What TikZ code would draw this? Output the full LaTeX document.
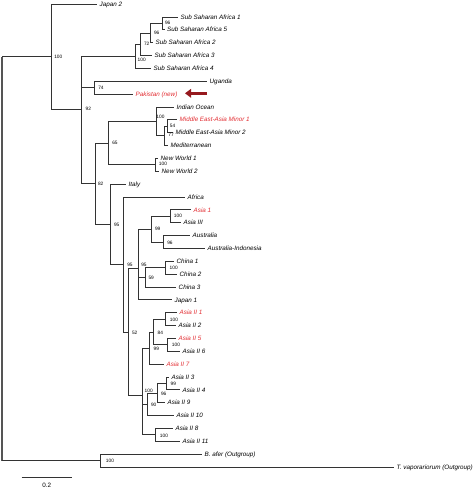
\documentclass[tikz,border=0pt]{standalone}
\usepackage{fontspec}
\setmainfont{Liberation Sans}
\usetikzlibrary{arrows.meta}
\definecolor{treeln}{HTML}{333333}
\definecolor{rootln}{HTML}{555555}
\definecolor{hlred}{RGB}{226,45,50}
\definecolor{arrred}{RGB}{150,25,30}
\newcommand{\rowy}[1]{(4+12.86*(#1))}
\begin{document}
\begin{tikzpicture}[x=1pt,y=-1pt,
  br/.style={draw=treeln,line width=0.7pt},
  rootbr/.style={draw=rootln,line width=1.5pt},
  tip/.style={anchor=west,inner xsep=2.5pt,inner ysep=0pt,font=\fontsize{6.3}{7}\selectfont\itshape,text height=4.5pt,text depth=0pt},
  redtip/.style={tip,text=hlred},
  bs/.style={inner sep=0pt,font=\fontsize{4.8}{5}\selectfont,text height=3.4pt,text depth=0pt},
  scalelbl/.style={inner sep=0pt,font=\fontsize{6.3}{7}\selectfont,text height=4.5pt,text depth=0pt}]
\useasboundingbox (0,0) rectangle (474,488);
% tips
\node[tip] (t0) at (97,{\rowy{0}}) {Japan 2};
\node[tip] (t1) at (178,{\rowy{1}}) {Sub Saharan Africa 1};
\node[tip] (t2) at (164.5,{\rowy{2}}) {Sub Saharan Africa 5};
\node[tip] (t3) at (153,{\rowy{3}}) {Sub Saharan Africa 2};
\node[tip] (t4) at (152,{\rowy{4}}) {Sub Saharan Africa 3};
\node[tip] (t5) at (151,{\rowy{5}}) {Sub Saharan Africa 4};
\node[tip] (t6) at (207,{\rowy{6}}) {Uganda};
\node[redtip] (t7) at (133,{\rowy{7}}) {Pakistan (new)};
\node[tip] (t8) at (174,{\rowy{8}}) {Indian Ocean};
\node[redtip] (t9) at (177,{\rowy{9}}) {Middle East-Asia Minor 1};
\node[tip] (t10) at (173,{\rowy{10}}) {Middle East-Asia Minor 2};
\node[tip] (t11) at (168,{\rowy{11}}) {Mediterranean};
\node[tip] (t12) at (158,{\rowy{12}}) {New World 1};
\node[tip] (t13) at (159,{\rowy{13}}) {New World 2};
\node[tip] (t14) at (126,{\rowy{14}}) {Italy};
\node[tip] (t15) at (185,{\rowy{15}}) {Africa};
\node[redtip] (t16) at (191,{\rowy{16}}) {Asia 1};
\node[tip] (t17) at (181,{\rowy{17}}) {Asia III};
\node[tip] (t18) at (190,{\rowy{18}}) {Australia};
\node[tip] (t19) at (205,{\rowy{19}}) {Australia-Indonesia};
\node[tip] (t20) at (174,{\rowy{20}}) {China 1};
\node[tip] (t21) at (177,{\rowy{21}}) {China 2};
\node[tip] (t22) at (176,{\rowy{22}}) {China 3};
\node[tip] (t23) at (172,{\rowy{23}}) {Japan 1};
\node[redtip] (t24) at (177,{\rowy{24}}) {Asia II 1};
\node[tip] (t25) at (176,{\rowy{25}}) {Asia II 2};
\node[redtip] (t26) at (176,{\rowy{26}}) {Asia II 5};
\node[tip] (t27) at (180,{\rowy{27}}) {Asia II 6};
\node[redtip] (t28) at (164,{\rowy{28}}) {Asia II 7};
\node[tip] (t29) at (169,{\rowy{29}}) {Asia II 3};
\node[tip] (t30) at (180,{\rowy{30}}) {Asia II 4};
\node[tip] (t31) at (165,{\rowy{31}}) {Asia II 9};
\node[tip] (t32) at (174,{\rowy{32}}) {Asia II 10};
\node[tip] (t33) at (173,{\rowy{33}}) {Asia II 8};
\node[tip] (t34) at (180,{\rowy{34}}) {Asia II 11};
\node[tip] (t35) at (202,{\rowy{35}}) {B. afer (Outgroup)};
\node[tip] (t36) at (394,{\rowy{36}}) {T. vaporariorum (Outgroup)};
% internal nodes
\coordinate (nR) at (2,{\rowy{19.79}});
\coordinate (nA) at (51,{\rowy{4.089}});
\coordinate (nB) at (81,{\rowy{8.178}});
\coordinate (nSSA) at (135,{\rowy{4.0625}});
\coordinate (nS3) at (140,{\rowy{3.125}});
\coordinate (nS2) at (150,{\rowy{2.25}});
\coordinate (nS1) at (162,{\rowy{1.5}});
\coordinate (nUP) at (94.5,{\rowy{6.5}});
\coordinate (nC) at (95,{\rowy{13.97}});
\coordinate (nD) at (108,{\rowy{10.8125}});
\coordinate (nME) at (156,{\rowy{9.125}});
\coordinate (nM2) at (164.5,{\rowy{10.25}});
\coordinate (nM1) at (167,{\rowy{9.5}});
\coordinate (nNW) at (155,{\rowy{12.5}});
\coordinate (nF) at (110,{\rowy{17.13}});
\coordinate (nE) at (123,{\rowy{20.26}});
\coordinate (nG) at (128,{\rowy{25.52}});
\coordinate (nH) at (138,{\rowy{20.583}});
\coordinate (nJ) at (151,{\rowy{17.5}});
\coordinate (nA1) at (170,{\rowy{16.5}});
\coordinate (nAu) at (163,{\rowy{18.5}});
\coordinate (nK) at (145,{\rowy{21.25}});
\coordinate (nCh) at (165,{\rowy{20.5}});
\coordinate (nI) at (142,{\rowy{30.458}});
\coordinate (n99) at (149,{\rowy{26.75}});
\coordinate (n84) at (153,{\rowy{25.5}});
\coordinate (nII12) at (165,{\rowy{24.5}});
\coordinate (nII56) at (167,{\rowy{26.5}});
\coordinate (n90) at (147,{\rowy{31.125}});
\coordinate (n96) at (157,{\rowy{30.25}});
\coordinate (n34) at (166,{\rowy{29.5}});
\coordinate (n811) at (155,{\rowy{33.5}});
\coordinate (nOG) at (100,{\rowy{35.5}});
% root
\draw[rootbr] (nR |- nA) -- (nR |- nOG);
\draw[br] (nR |- nA) -- (nA);
\draw[br] (nR |- nOG) -- (nOG);
% branches
\draw[br] (nA) |- (t0.west);
\draw[br] (nA) |- (nB);
\draw[br] (nB) |- (nSSA);
\draw[br] (nB) |- (nUP);
\draw[br] (nB) |- (nC);
\draw[br] (nSSA) |- (nS3);
\draw[br] (nSSA) |- (t5.west);
\draw[br] (nS3) |- (nS2);
\draw[br] (nS3) |- (t4.west);
\draw[br] (nS2) |- (nS1);
\draw[br] (nS2) |- (t3.west);
\draw[br] (nS1) |- (t1.west);
\draw[br] (nS1) |- (t2.west);
\draw[br] (nUP) |- (t6.west);
\draw[br] (nUP) |- (t7.west);
\draw[br] (nC) |- (nD);
\draw[br] (nC) |- (nF);
\draw[br] (nD) |- (nME);
\draw[br] (nD) |- (nNW);
\draw[br] (nME) |- (t8.west);
\draw[br] (nME) |- (nM2);
\draw[br] (nM2) |- (nM1);
\draw[br] (nM2) |- (t11.west);
\draw[br] (nM1) |- (t9.west);
\draw[br] (nM1) |- (t10.west);
\draw[br] (nNW) |- (t12.west);
\draw[br] (nNW) |- (t13.west);
\draw[br] (nF) |- (t14.west);
\draw[br] (nF) |- (nE);
\draw[br] (nE) |- (t15.west);
\draw[br] (nE) |- (nG);
\draw[br] (nG) |- (nH);
\draw[br] (nG) |- (nI);
\draw[br] (nH) |- (nJ);
\draw[br] (nH) |- (nK);
\draw[br] (nH) |- (t23.west);
\draw[br] (nJ) |- (nA1);
\draw[br] (nJ) |- (nAu);
\draw[br] (nA1) |- (t16.west);
\draw[br] (nA1) |- (t17.west);
\draw[br] (nAu) |- (t18.west);
\draw[br] (nAu) |- (t19.west);
\draw[br] (nK) |- (nCh);
\draw[br] (nK) |- (t22.west);
\draw[br] (nCh) |- (t20.west);
\draw[br] (nCh) |- (t21.west);
\draw[br] (nI) |- (n99);
\draw[br] (nI) |- (n90);
\draw[br] (nI) |- (n811);
\draw[br] (n99) |- (n84);
\draw[br] (n99) |- (t28.west);
\draw[br] (n84) |- (nII12);
\draw[br] (n84) |- (nII56);
\draw[br] (nII12) |- (t24.west);
\draw[br] (nII12) |- (t25.west);
\draw[br] (nII56) |- (t26.west);
\draw[br] (nII56) |- (t27.west);
\draw[br] (n90) |- (n96);
\draw[br] (n90) |- (t32.west);
\draw[br] (n96) |- (n34);
\draw[br] (n96) |- (t31.west);
\draw[br] (n34) |- (t29.west);
\draw[br] (n34) |- (t30.west);
\draw[br] (n811) |- (t33.west);
\draw[br] (n811) |- (t34.west);
\draw[br] (nOG) |- (t35.west);
\draw[br] (nOG) |- (t36.west);
% bootstrap values
\node[bs] (bA) at (58.3,56.7) {100};
\node[bs] (bS1) at (167.7,22.7) {96};
\node[bs] (bS2) at (156.7,32.7) {96};
\node[bs] (bS3) at (146.7,43.3) {72};
\node[bs] (bSSA) at (141.7,59.3) {100};
\node[bs] (bUP) at (101,87.3) {74};
\node[bs] (bB) at (88.3,108.5) {92};
\node[bs] (bME) at (160.5,117) {100};
\node[bs] (bM1) at (172.5,125.5) {54};
\node[bs] (bM2) at (171,135) {77};
\node[bs] (bNW) at (163,164) {100};
\node[bs] (bD) at (115,142.7) {65};
\node[bs] (bC) at (100.7,183.3) {82};
\node[bs] (bF) at (116.7,224.3) {95};
\node[bs] (bE) at (130,264.5) {95};
\node[bs] (bH) at (144,264.5) {95};
\node[bs] (bA1) at (178,215.5) {100};
\node[bs] (bJ) at (157.7,229) {99};
\node[bs] (bAu) at (170,242.3) {96};
\node[bs] (bCh) at (173.7,267.7) {100};
\node[bs] (bK) at (151.2,277.7) {59};
\node[bs] (bG) at (134.7,332.7) {52};
\node[bs] (bII12) at (174,319.3) {100};
\node[bs] (b84) at (160.3,332.7) {84};
\node[bs] (bII56) at (176,345) {100};
\node[bs] (b99) at (156.3,348.3) {99};
\node[bs] (b34) at (173.3,383.7) {99};
\node[bs] (bI) at (148.7,390.5) {100};
\node[bs] (b96) at (163.7,393.7) {96};
\node[bs] (b90) at (153.7,404.7) {90};
\node[bs] (b811) at (164,435.7) {100};
\node[bs] (bOG) at (110,461) {100};
% arrow
\coordinate (arT) at (207,93.3);
\coordinate (arH) at (185,93.3);
\draw[arrred,line width=3pt,-{Triangle[length=6pt,width=8.5pt]}] (arT) -- (arH);
% scale bar
\coordinate (sb1) at (21.7,477.7);
\coordinate (sb2) at (71.7,477.7);
\draw[br] (sb1) -- (sb2);
\node[scalelbl] (sbl) at (46.7,485) {0.2};
\end{tikzpicture}
\end{document}
